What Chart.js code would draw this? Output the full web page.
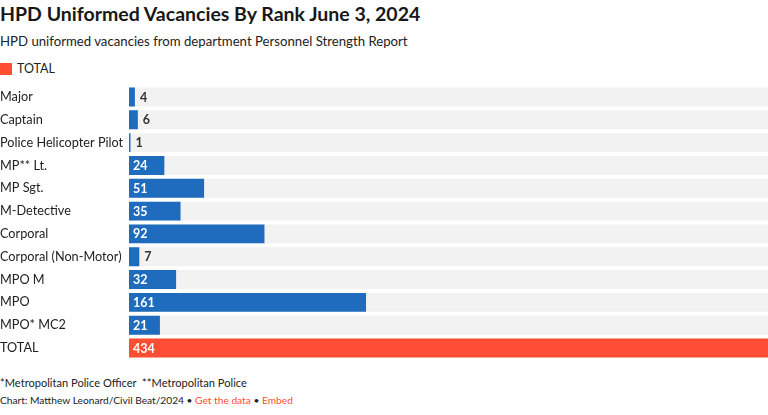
<!DOCTYPE html>
<html>
<head>
<meta charset="utf-8">
<script src="https://cdn.jsdelivr.net/npm/chart.js@4"></script>
<style>
  html,body{margin:0;padding:0;background:#fff;width:768px;height:415px;overflow:hidden;font-family:Lato,"Liberation Sans",sans-serif;color:#181818;}
  #title{position:absolute;left:0;top:2px;font-size:19.5px;font-weight:700;white-space:nowrap;}
  #sub{position:absolute;left:0;top:33px;font-size:13.2px;color:#222;white-space:nowrap;}
  #legend{position:absolute;left:0;top:61px;font-size:12.5px;color:#222;display:flex;align-items:center;}
  #legend span.sw{display:inline-block;width:12px;height:12px;background:#ff4e33;margin-right:5px;}
  #wrap{position:absolute;left:0;top:78px;width:768px;height:289px;}
  #note{position:absolute;left:0;top:376px;font-size:11.1px;color:#222;white-space:pre;}
  #credit{position:absolute;left:0;top:394px;font-size:10.2px;color:#222;white-space:pre;}
  #credit a{color:#ff4e33;text-decoration:none;}
</style>
</head>
<body>
<div id="title">HPD Uniformed Vacancies By Rank June 3, 2024</div>
<div id="sub">HPD uniformed vacancies from department Personnel Strength Report</div>
<div id="legend"><span class="sw"></span>TOTAL</div>
<div id="wrap"><canvas id="c"></canvas></div>
<div id="note">*Metropolitan Police Officer  **Metropolitan Police</div>
<div id="credit">Chart: Matthew Leonard/Civil Beat/2024 • <a>Get the data</a> • <a>Embed</a></div>
<script>
const categories = ["Major","Captain","Police Helicopter Pilot","MP** Lt.","MP Sgt.","M-Detective","Corporal","Corporal (Non-Motor)","MPO M","MPO","MPO* MC2","TOTAL"];
const values = [4,6,1,24,51,35,92,7,32,161,21,434];
const totalLabel = "TOTAL";
const blue = "#1f6bbd", red = "#ff4e33", gray = "#f2f2f2";
const maxVal = Math.max(...values);

const valueLabels = {
  id:'valueLabels',
  afterDatasetsDraw(chart){
    const ctx = chart.ctx;
    const meta = chart.getDatasetMeta(1);
    ctx.save();
    ctx.font = "bold 12.5px Lato, 'Liberation Sans', sans-serif";
    ctx.textBaseline = "middle";
    meta.data.forEach((bar,i)=>{
      const txt = String(values[i]);
      const w = ctx.measureText(txt).width;
      const bw = bar.x - bar.base;
      if (bw > w + 8) {
        ctx.fillStyle = "#fff";
        ctx.fillText(txt, bar.base + 4, bar.y + 0.5);
      } else {
        ctx.fillStyle = "#333";
        ctx.fillText(txt, bar.x + 5, bar.y + 0.5);
      }
    });
    ctx.restore();
  }
};

new Chart(document.getElementById('c'), {
  type:'bar',
  data:{
    labels:categories,
    datasets:[
      {label:'bg', data:categories.map(()=>maxVal), backgroundColor:gray, grouped:false, barPercentage:0.83, categoryPercentage:1, order:2},
      {label:'value', data:values, backgroundColor:categories.map(c=>c===totalLabel?red:blue), grouped:false, barPercentage:0.83, categoryPercentage:1, order:1}
    ]
  },
  options:{
    indexAxis:'y',
    responsive:true, maintainAspectRatio:false, animation:false,
    layout:{padding:0},
    plugins:{legend:{display:false}, tooltip:{enabled:false}},
    scales:{
      x:{display:false, min:0, max:maxVal},
      y:{
        grid:{display:false}, border:{display:false},
        afterFit(s){ s.width = 129; },
        ticks:{crossAlign:'far', padding:0, color:'#222', font:{size:12.7, family:"Lato, 'Liberation Sans', sans-serif"}}
      }
    }
  },
  plugins:[valueLabels]
});
</script>
</body>
</html>
